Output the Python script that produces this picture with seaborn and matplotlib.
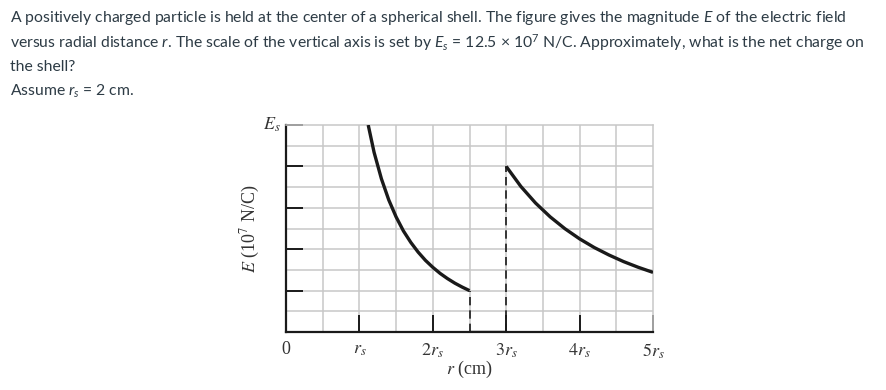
import matplotlib
matplotlib.use("Agg")
import matplotlib.pyplot as plt
import seaborn as sns
import pandas as pd

# values (r in units of r_s, E in units of E_s)
r_inner = [1.12, 1.2, 1.3, 1.4, 1.5, 1.6, 1.7, 1.8, 1.9, 2.0, 2.1, 2.2, 2.3, 2.4, 2.5]
e_inner = [1.0, 0.868, 0.740, 0.638, 0.556, 0.488, 0.433, 0.386, 0.346, 0.3125, 0.283, 0.258, 0.236, 0.217, 0.2]
r_shell = [2.5, 3.0]
e_shell = [0.0, 0.0]
r_outer = [3.0, 3.2, 3.4, 3.6, 3.8, 4.0, 4.2, 4.4, 4.6, 4.8, 5.0]
e_outer = [0.8, 0.703, 0.623, 0.556, 0.499, 0.45, 0.408, 0.372, 0.340, 0.3125, 0.288]
x_ticks = [0, 1, 2, 3, 4, 5]
x_labels = ["0", "$r_s$", "$2r_s$", "$3r_s$", "$4r_s$", "$5r_s$"]
y_major = [0.2, 0.4, 0.6, 0.8, 1.0]

question = [
    "A positively charged particle is held at the center of a spherical shell. The figure gives the magnitude $E$ of the electric field",
    "versus radial distance $r$. The scale of the vertical axis is set by $E_s$ = 12.5 \u00d7 10$^7$ N/C. Approximately, what is the net charge on",
    "the shell?",
    "Assume $r_s$ = 2 cm.",
]

sns.set_style("white")
plt.rcParams["font.family"] = ["Lato", "DejaVu Sans"]
plt.rcParams["mathtext.fontset"] = "custom"
plt.rcParams["mathtext.rm"] = "Lato"
plt.rcParams["mathtext.it"] = "Lato:italic"

fig = plt.figure(figsize=(8.86, 3.90), dpi=100)
txt_color = "#2d3b45"
for i, line in enumerate(question):
    fig.text(10 / 886, 1 - (18 + 24.5 * i) / 390, line, fontsize=11.3, color=txt_color,
             va="center", ha="left")

ax = fig.add_axes([286 / 886, 58 / 390, 367 / 886, 207 / 390])
ax.set_xlim(0, 5)
ax.set_ylim(0, 1)

# grid
grid_c = "#c8c8c8"
for i in range(1, 10):
    ax.axvline(i * 0.5, color=grid_c, lw=1.1, zorder=0)
    ax.axhline(i * 0.1, color=grid_c, lw=1.1, zorder=0)

df_in = pd.DataFrame({"r": r_inner, "E": e_inner})
df_sh = pd.DataFrame({"r": r_shell, "E": e_shell})
df_out = pd.DataFrame({"r": r_outer, "E": e_outer})
for d in (df_in, df_sh, df_out):
    sns.lineplot(data=d, x="r", y="E", ax=ax, color="#1a1a1a", lw=2.4, sort=False,
                 solid_capstyle="butt", zorder=3)

# dashed jumps at the shell edges
ax.plot([r_inner[-1], r_inner[-1]], [0, e_inner[-1]], color="#1a1a1a", lw=1.2,
        ls=(0, (5, 3)), zorder=2)
ax.plot([r_outer[0], r_outer[0]], [0, e_outer[0]], color="#1a1a1a", lw=1.2,
        ls=(0, (5, 3)), zorder=2)

for s in ("top", "right"):
    ax.spines[s].set_color(grid_c)
    ax.spines[s].set_linewidth(1.1)
for s in ("left", "bottom"):
    ax.spines[s].set_color("#1a1a1a")
    ax.spines[s].set_linewidth(1.6)

lab_c = "#333333"
ax.set_xticks(x_ticks)
ax.set_xticklabels([])
ax.set_yticks(y_major)
ax.set_yticklabels([])
ax.tick_params(axis="both", direction="in", length=12, width=1.4, color="#1a1a1a",
               pad=0, left=True, bottom=True)
for x, lab in zip(x_ticks, x_labels):
    ax.text(x, -0.045, lab, ha="center", va="top", fontsize=13, color=lab_c,
            math_fontfamily="stix", family="Liberation Serif")
ax.text(-0.07, 1.0, "$E_s$", ha="right", va="center", fontsize=13, color=lab_c,
        math_fontfamily="stix")
ax.set_xlabel("$r$ (cm)", fontsize=13, family="Liberation Serif", color=lab_c,
              labelpad=19, math_fontfamily="stix")
ax.set_ylabel("$E$ (10$^7$ N/C)", fontsize=13, family="Liberation Serif", color=lab_c,
              labelpad=17, math_fontfamily="stix")

fig.savefig("out.png", dpi=100)
